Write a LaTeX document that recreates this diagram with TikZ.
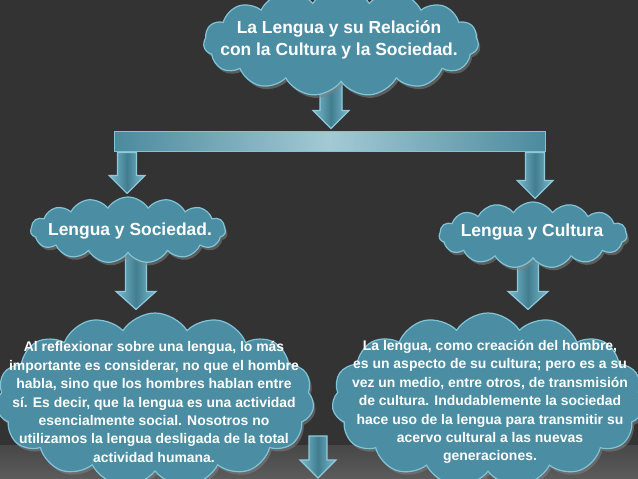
\documentclass[tikz,border=0pt]{standalone}
\usepackage{fontspec}
\setmainfont{Liberation Sans}
\usetikzlibrary{shapes.symbols,shadows,calc}

\definecolor{fondogris}{HTML}{333333}
\definecolor{sueloclaro}{HTML}{5C5C5C}
\definecolor{suelooscuro}{HTML}{474747}
\definecolor{nubefill}{HTML}{4B8EA3}
\definecolor{nubeborde}{HTML}{82C4D7}
\definecolor{barraclara}{HTML}{A3C9D5}
\definecolor{barraoscura}{HTML}{4C8A9E}

\pgfdeclarelayer{fondo}
\pgfdeclarelayer{flechas}
\pgfsetlayers{fondo,flechas,main}

\tikzset{
  nube/.style={cloud, cloud puffs=15, cloud puff arc=115, cloud ignores aspect,
    fill=nubefill, draw=nubeborde, line width=1.2bp,
    drop shadow={opacity=0.55, shadow xshift=2bp, shadow yshift=-3bp}},
  titulo/.style={text=white, font=\bfseries\fontsize{17.5}{22}\selectfont,
    align=center, inner sep=0pt},
  cuerpo/.style={text=white, font=\bfseries\fontsize{14}{18.5}\selectfont,
    align=center, inner sep=0pt},
  flecha/.style={draw=nubeborde!90!white, line width=1.2bp, left color=nubeborde!85!nubefill,
    right color=nubeborde!85!nubefill, middle color=nubefill!88!black},
  barra/.style={rectangle, draw=nubeborde, line width=1bp,
    left color=barraoscura, right color=barraoscura, middle color=barraclara,
    minimum width=430bp, minimum height=20bp, inner sep=0pt}
}

% block arrow: start, tip, half shaft, half head
\newcommand\flechabloque[4]{%
  \path[flecha] let \p1=(#1), \p2=(#2) in
    (\x2-#3,\y1) -- (\x2-#3,\y2+18bp) -- (\x2-#4,\y2+18bp) -- (\x2,\y2)
    -- (\x2+#4,\y2+18bp) -- (\x2+#3,\y2+18bp) -- (\x2+#3,\y1) -- cycle;}

\begin{document}
\begin{tikzpicture}[x=1bp,y=-1bp]
  \useasboundingbox (0,0) rectangle (638,479);
  \begin{pgfonlayer}{fondo}
    \fill[fondogris] (0,0) rectangle (638,479);
    \shade[top color=suelooscuro, bottom color=sueloclaro] (0,445) rectangle (638,479);
  \end{pgfonlayer}

  % clouds
  \node[nube, minimum width=275bp, minimum height=108bp] (raiz) at (341,42) {};
  \node[titulo] (raizTxt) at (339,40) {La Lengua y su Relación\\con la Cultura y la Sociedad.};
  \node[barra] (barra) at (330,142) {};
  \node[nube, minimum width=195bp, minimum height=66bp] (soc) at (128,230) {};
  \node[titulo] (socTxt) at (130,231) {Lengua y Sociedad.};
  \node[nube, minimum width=188bp, minimum height=66bp] (cul) at (533,235) {};
  \node[titulo] (culTxt) at (532,232) {Lengua y Cultura};
  \node[nube, minimum width=318bp, minimum height=174bp] (socDef) at (155,400) {};
  \node[cuerpo] (socDefTxt) at ($(socDef)+(-1,2)$) {Al reflexionar sobre una lengua, lo más\\
    importante es considerar, no que el hombre\\
    habla, sino que los hombres hablan entre\\
    sí. Es decir, que la lengua es una actividad\\
    esencialmente social. Nosotros no\\
    utilizamos la lengua desligada de la total\\
    actividad humana.};
  \node[nube, minimum width=312bp, minimum height=174bp] (culDef) at (488,400) {};
  \node[cuerpo] (culDefTxt) at ($(culDef)+(2,2)$) {La lengua, como creación del hombre,\\
    es un aspecto de su cultura; pero es a su\\
    vez un medio, entre otros, de transmisión\\
    de cultura. Indudablemente la sociedad\\
    hace uso de la lengua para transmitir su\\
    acervo cultural a las nuevas\\
    generaciones.};
  \coordinate (finIni) at (318,436);
  \coordinate (finPunta) at (318,478);

  % arrows
  \begin{pgfonlayer}{flechas}
    \flechabloque{raiz.south}{$(barra.north)+(1,-3)$}{11bp}{18bp}
    \flechabloque{barra.south}{$(soc.north)+(-1,-3)$}{9.5bp}{18bp}
    \flechabloque{barra.south}{$(cul.north)+(2,-3)$}{9.5bp}{18bp}
    \flechabloque{soc.south}{$(soc.south |- socDef.north)+(8,-3)$}{10.5bp}{20bp}
    \flechabloque{cul.south}{$(cul.south |- culDef.north)+(-5,-3)$}{10.5bp}{20bp}
    \flechabloque{finIni}{finPunta}{9bp}{18bp}
  \end{pgfonlayer}
\end{tikzpicture}
\end{document}
